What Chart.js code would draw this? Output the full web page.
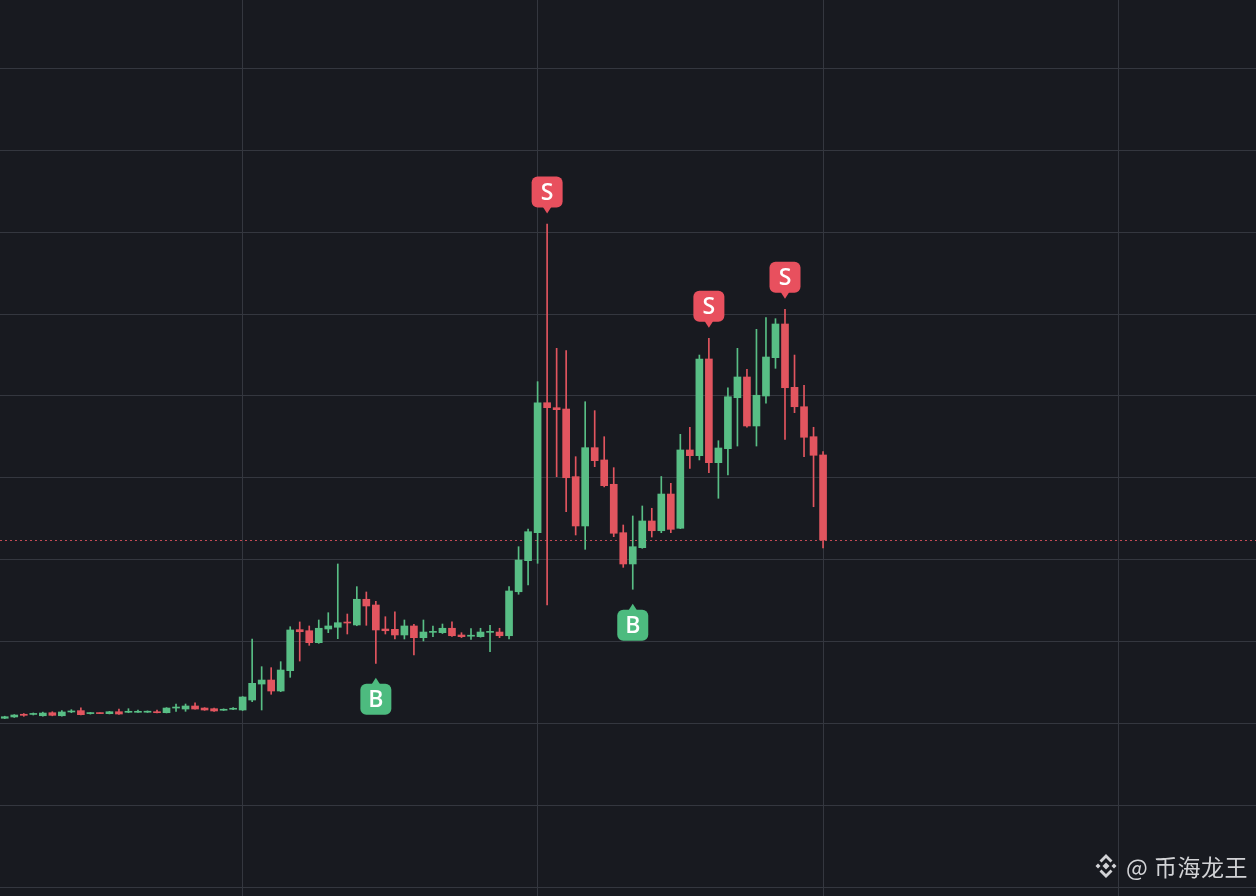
<!DOCTYPE html>
<html>
<head>
<meta charset="utf-8">
<script src="https://cdn.jsdelivr.net/npm/chart.js@4.4.1/dist/chart.umd.min.js"></script>
<style>
    html, body { margin: 0; padding: 0; background: #181a20; overflow: hidden; }
    #wrap { position: relative; width: 1256px; height: 896px; }
    #marca {
        position: absolute; right: 8px; bottom: 13px;
        display: flex; align-items: center; gap: 6px;
        font-family: "Noto Sans CJK SC", "Noto Sans", sans-serif;
        font-size: 23px; color: #d2d3d6; letter-spacing: 0.5px;
    }
</style>
</head>
<body>
<div id="wrap">
    <canvas id="candleChart" width="1256" height="896"></canvas>
    <div id="marca">
        <svg width="28" height="28" viewBox="0 0 28 28" fill="#d2d3d6">
            <polygon points="14,10.5 17.5,14 14,17.5 10.5,14"/>
            <polygon points="3.5,14 6,11.5 8.5,14 6,16.5"/>
            <polygon points="19.5,14 22,11.5 24.5,14 22,16.5"/>
            <polygon points="14,2 20.5,8.5 18.5,10.5 14,6 9.5,10.5 7.5,8.5"/>
            <polygon points="14,26 20.5,19.5 18.5,17.5 14,22 9.5,17.5 7.5,19.5"/>
        </svg>
        <span>@ 币海龙王</span>
    </div>
</div>
<script>
// Datos de las velas (una por día)
    // Valores: apertura, máximo, mínimo y cierre
    const opens = [20.65, 20.81, 21.14, 21.12, 20.96, 21.33, 20.96, 21.42, 21.58, 21.22,
        21.28, 21.21, 21.45, 21.38, 21.38, 21.39, 21.45, 21.33, 21.90, 21.78,
        22.15, 21.90, 21.82, 21.63, 21.75, 21.66, 22.88, 24.83, 25.32, 23.98,
        26.46, 31.47, 31.34, 29.88, 31.55, 31.76, 32.36, 32.04, 35.18, 34.48,
        31.55, 31.51, 30.82, 31.92, 30.49, 31.14, 31.10, 31.64, 30.82, 30.67,
        30.61, 31.14, 31.18, 30.73, 36.10, 39.89, 43.31, 59.18, 58.57, 58.41,
        50.15, 44.13, 53.69, 52.19, 49.22, 43.31, 39.49, 41.48, 44.74, 43.55,
        48.03, 43.85, 53.41, 52.71, 64.52, 51.86, 53.57, 59.79, 62.32, 56.34,
        60.00, 64.68, 68.79, 61.06, 58.69, 55.03, 52.80];
    const highs = [20.90, 21.10, 21.23, 21.30, 21.40, 21.45, 21.58, 21.70, 21.94, 21.36,
        21.32, 21.50, 21.78, 21.82, 21.66, 21.55, 21.66, 21.95, 22.39, 22.39,
        22.55, 21.95, 21.88, 21.80, 21.95, 23.30, 30.33, 26.95, 26.83, 27.56,
        31.83, 32.41, 31.92, 32.65, 33.54, 39.49, 33.38, 36.72, 36.07, 34.93,
        33.05, 33.66, 32.65, 32.12, 32.65, 31.92, 32.16, 32.44, 31.10, 31.59,
        31.64, 32.00, 31.64, 36.72, 41.60, 43.76, 61.75, 81.00, 65.82, 65.53,
        52.59, 59.30, 58.21, 55.03, 51.25, 44.25, 45.35, 46.57, 46.29, 50.17,
        49.34, 55.32, 56.18, 65.00, 67.05, 54.54, 61.01, 65.82, 63.26, 68.14,
        69.56, 69.44, 70.59, 65.00, 61.31, 56.18, 53.20];
    const lows = [20.60, 20.75, 20.89, 21.05, 20.90, 20.95, 20.90, 21.33, 21.05, 21.16,
        21.20, 21.18, 21.12, 21.33, 21.36, 21.36, 21.30, 21.30, 21.50, 21.50,
        21.75, 21.62, 21.50, 21.60, 21.70, 21.60, 22.67, 21.66, 23.58, 23.90,
        25.65, 27.64, 29.56, 29.80, 31.10, 30.37, 30.94, 31.95, 32.00, 27.36,
        30.94, 30.33, 30.33, 28.38, 30.09, 30.61, 31.00, 30.65, 30.50, 30.29,
        30.55, 28.78, 30.49, 30.33, 35.79, 36.92, 39.57, 34.48, 50.15, 45.87,
        43.03, 41.28, 51.37, 48.90, 42.82, 39.08, 36.40, 41.40, 42.78, 43.31,
        43.31, 43.80, 51.17, 52.19, 50.63, 47.51, 50.35, 53.89, 56.20, 53.89,
        59.11, 63.38, 54.71, 57.96, 52.59, 46.48, 41.44];
    const closes = [20.84, 21.05, 21.01, 21.20, 21.29, 21.01, 21.42, 21.48, 21.09, 21.28,
        21.22, 21.45, 21.17, 21.44, 21.44, 21.44, 21.33, 21.90, 21.96, 22.15,
        21.78, 21.66, 21.54, 21.69, 21.81, 23.25, 24.92, 25.32, 23.98, 26.54,
        31.43, 31.22, 29.88, 31.64, 31.92, 32.32, 32.28, 35.18, 34.36, 31.43,
        31.34, 30.82, 31.92, 30.49, 31.18, 31.20, 31.64, 30.73, 30.61, 30.72,
        31.18, 31.20, 30.73, 36.19, 39.97, 43.43, 59.18, 58.57, 58.33, 50.02,
        44.13, 53.69, 52.10, 49.05, 43.24, 39.49, 41.60, 44.74, 43.55, 48.03,
        43.72, 53.41, 52.71, 64.52, 51.86, 53.65, 59.91, 62.32, 56.34, 60.09,
        64.76, 68.79, 61.01, 58.69, 54.96, 52.76, 42.42];

    // Señales de compra / venta (índice de la vela)
    const sellIdx = [57, 74, 82];
    const buyIdx = [39, 66];

    // Eje de tiempo: días desde el 6 de septiembre (incluye espacio vacío a la derecha)
    const startDate = new Date(Date.UTC(2024, 8, 6));
    const totalDays = 132;
    const labels = [];
    for (let i = 0; i < totalDays; i++) {
        const d = new Date(startDate.getTime() + i * 86400000);
        labels.push(d.toISOString().slice(0, 10));
    }

    const upColor = '#58be85';
    const downColor = '#e2555f';
    const gridColor = '#34373f';

    const candleColors = opens.map((o, i) => closes[i] >= o ? upColor : downColor);
    const wicks = lows.map((l, i) => [l, highs[i]]);
    const bodies = opens.map((o, i) => [Math.min(o, closes[i]), Math.max(o, closes[i])]);


// Plugin de señales y línea del precio actual
    // Dibuja las etiquetas S / B y la línea punteada del último cierre usando las escalas del gráfico
    function drawTag(ctx, cx, cy, letter, color, pointDown) {
        const w = 31, h = 31, r = 6;
        ctx.fillStyle = color;
        ctx.beginPath();
        ctx.roundRect(cx - w / 2, cy - h / 2, w, h, r);
        ctx.fill();
        ctx.beginPath();
        if (pointDown) {
            ctx.moveTo(cx - 4.5, cy + h / 2 - 1);
            ctx.lineTo(cx + 4.5, cy + h / 2 - 1);
            ctx.lineTo(cx, cy + h / 2 + 6);
        } else {
            ctx.moveTo(cx - 4.5, cy - h / 2 + 1);
            ctx.lineTo(cx + 4.5, cy - h / 2 + 1);
            ctx.lineTo(cx, cy - h / 2 - 6);
        }
        ctx.fill();
        ctx.fillStyle = '#ffffff';
        ctx.font = '600 23px "Open Sans", Roboto, sans-serif';
        ctx.textAlign = 'center';
        ctx.textBaseline = 'middle';
        ctx.fillText(letter, cx, cy + 1);
    }

    const signalsPlugin = {
        id: 'signals',
        beforeDatasetsDraw(chart) {
            const { ctx, chartArea, scales: { y } } = chart;
            const py = Math.round(y.getPixelForValue(closes[closes.length - 1])) + 0.5;
            ctx.save();
            ctx.strokeStyle = 'rgba(226, 85, 95, 0.85)';
            ctx.lineWidth = 1;
            ctx.setLineDash([2, 3]);
            ctx.beginPath();
            ctx.moveTo(chartArea.left, py);
            ctx.lineTo(chartArea.right, py);
            ctx.stroke();
            ctx.restore();
        },
        afterDatasetsDraw(chart) {
            const { ctx, scales: { x, y } } = chart;
            ctx.save();
            sellIdx.forEach(i => {
                drawTag(ctx, x.getPixelForValue(i), y.getPixelForValue(highs[i]) - 32, 'S', '#e8505e', true);
            });
            buyIdx.forEach(i => {
                drawTag(ctx, x.getPixelForValue(i), y.getPixelForValue(lows[i]) + 36, 'B', '#4dbb7f', false);
            });
            ctx.restore();
        }
    };


// Gráfico de Velas
    // Se construye con barras flotantes: una fina para la mecha y otra ancha para el cuerpo
    const ctxCandle = document.getElementById('candleChart').getContext('2d');
    const candleChart = new Chart(ctxCandle, {
        type: 'bar',
        data: {
            labels: labels,
            datasets: [{
                label: 'Mecha',
                data: wicks,
                backgroundColor: candleColors,
                barThickness: 1,
                grouped: false,
                order: 2
            }, {
                label: 'Cuerpo',
                data: bodies,
                backgroundColor: candleColors,
                barThickness: 7,
                minBarLength: 1,
                grouped: false,
                order: 1
            }]
        },
        options: {
            responsive: false,
            animation: false,
            layout: { padding: 0 },
            plugins: {
                legend: { display: false },
                tooltip: { enabled: false }
            },
            scales: {
                x: {
                    offset: true,
                    grid: {
                        offset: false,
                        drawTicks: false,
                        color: (c) => (labels[c.index] && labels[c.index].endsWith('-01')) ? gridColor : 'rgba(0,0,0,0)'
                    },
                    ticks: { display: false },
                    border: { display: false }
                },
                y: {
                    min: -1.05,
                    max: 108.35,
                    grid: { color: gridColor, drawTicks: false },
                    ticks: { display: false, stepSize: 10, includeBounds: false },
                    border: { display: false }
                }
            }
        },
        plugins: [signalsPlugin]
    });
</script>
</body>
</html>
